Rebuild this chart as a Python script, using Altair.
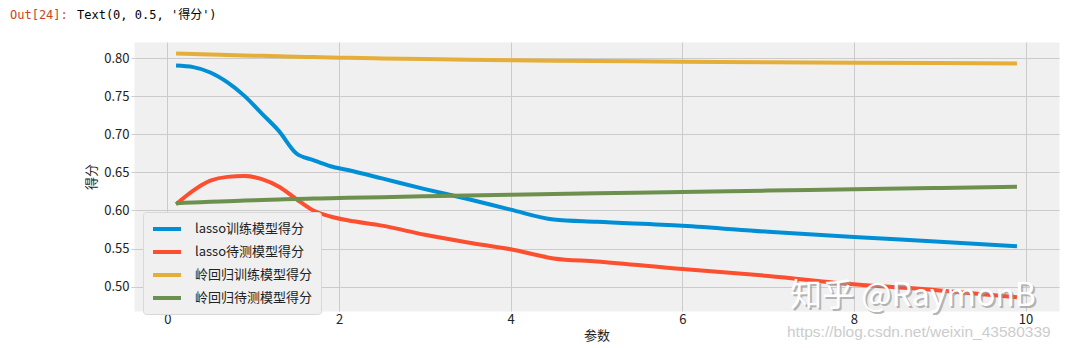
import altair as alt
import pandas as pd

# ---- data ----
alphas = [0.1, 0.3, 0.5, 0.7, 0.9, 1.1, 1.3, 1.5, 1.7, 1.9, 2.1, 2.5, 3.0, 3.5,
          4.0, 4.5, 5.0, 6.0, 7.0, 8.0, 9.0, 9.9]
lasso_train = [0.790, 0.788, 0.781, 0.768, 0.750, 0.727, 0.704, 0.675, 0.666, 0.658,
               0.653, 0.642, 0.628, 0.615, 0.601, 0.588, 0.585, 0.580, 0.572, 0.565,
               0.559, 0.553]
lasso_test = [0.608, 0.626, 0.639, 0.644, 0.645, 0.641, 0.631, 0.615, 0.600, 0.592,
              0.587, 0.580, 0.568, 0.558, 0.549, 0.537, 0.533, 0.523, 0.514, 0.503,
              0.495, 0.486]
ridge_train = [0.8060, 0.8053, 0.8046, 0.8040, 0.8034, 0.8028, 0.8022, 0.8017, 0.8012,
               0.8007, 0.8003, 0.7995, 0.7986, 0.7978, 0.7971, 0.7965, 0.7960, 0.7951,
               0.7944, 0.7938, 0.7933, 0.7929]
ridge_test = [0.6095, 0.6104, 0.6113, 0.6121, 0.6129, 0.6136, 0.6143, 0.6149, 0.6155,
              0.6160, 0.6165, 0.6174, 0.6185, 0.6196, 0.6207, 0.6216, 0.6225, 0.6242,
              0.6260, 0.6278, 0.6295, 0.6310]

series_names = ["lasso训练模型得分", "lasso待测模型得分", "岭回归训练模型得分", "岭回归待测模型得分"]
series_values = [lasso_train, lasso_test, ridge_train, ridge_test]
series_colors = ["#008fd5", "#fc4f30", "#e5ae38", "#6d904f"]

x_ticks = [0, 2, 4, 6, 8, 10]
y_ticks = [0.50, 0.55, 0.60, 0.65, 0.70, 0.75, 0.80]

out_prompt = "Out[24]:"
out_text = "Text(0, 0.5, '得分')"
watermark = "知乎 @RaymonB"
url_mark = "https://blog.csdn.net/weixin_43580339"

rows = []
for name, vals in zip(series_names, series_values):
    for a, v in zip(alphas, vals):
        rows.append({"参数": a, "得分": v, "series": name})
df = pd.DataFrame(rows)

FONT = "Noto Sans CJK SC"

color = alt.Color(
    "series:N",
    scale=alt.Scale(domain=series_names, range=series_colors),
    legend=alt.Legend(
        title=None,
        orient="none",
        legendX=9,
        legendY=170,
        fillColor="#f0f0f0",
        strokeColor="#d8d8d8",
        padding=8,
        cornerRadius=3,
        symbolType="M-1,0H3",
        symbolStrokeWidth=4,
        symbolSize=196,
        labelFont=FONT,
        labelFontSize=13,
        labelColor="#222222",
        labelOffset=26,
        labelLimit=300,
        rowPadding=6,
    ),
)

x_enc = alt.X(
    "参数:Q",
    scale=alt.Scale(domain=[-0.39, 10.39], nice=False, zero=False),
    axis=alt.Axis(values=x_ticks, title="参数", ticks=False, labelPadding=2,
                  titlePadding=3, format="d"),
)
y_enc = alt.Y(
    "得分:Q",
    scale=alt.Scale(domain=[0.468, 0.821], nice=False, zero=False),
    axis=alt.Axis(values=y_ticks, title="得分", format=".2f", tickSize=3,
                  tickColor="#cbcbcb", labelPadding=2, titlePadding=5),
)

base = alt.Chart(df)
lines = [
    base.transform_filter(alt.datum.series == name)
    .mark_line(strokeWidth=4, clip=True, interpolate="monotone")
    .encode(x=x_enc, y=y_enc, color=color)
    for name in series_names
]

def text_layer(txt, x, y, **kw):
    return alt.Chart(pd.DataFrame({"t": [txt]})).mark_text(**kw).encode(
        x=alt.value(x), y=alt.value(y), text="t:N"
    )

prompt = text_layer(out_prompt, -124, -27, align="left", baseline="middle",
                    font="DejaVu Sans Mono, Noto Sans CJK SC", fontSize=12, color="#c9441c")
outtxt = text_layer(out_text, -57, -27, align="left", baseline="middle",
                    font="DejaVu Sans Mono, Noto Sans CJK SC", fontSize=12, color="#000000")
wm_shadow = text_layer(watermark, 658, 256, align="left", baseline="middle",
                       font=FONT, fontSize=32, color="#9a9a9a", opacity=0.7)
wm = text_layer(watermark, 656, 254, align="left", baseline="middle",
                font=FONT, fontSize=32, color="#ffffff")
url = text_layer(url_mark, 653, 290, align="left", baseline="middle",
                 font="Liberation Sans", fontSize=15.5, color="#cccccc")

chart = alt.layer(*lines, prompt, outtxt, wm_shadow, wm, url).properties(
    width=925,
    height=269,
    autosize=alt.AutoSizeParams(type="none"),
    padding={"left": 134, "top": 42, "right": 7, "bottom": 37},
    background="#ffffff",
).configure_view(
    fill="#f0f0f0", stroke="transparent"
).configure_axis(
    domain=False,
    grid=True,
    gridColor="#cbcbcb",
    gridWidth=1,
    labelFont=FONT,
    labelFontSize=13,
    labelColor="#222222",
    titleFont=FONT,
    titleFontSize=13,
    titleFontWeight="normal",
    titleColor="#222222",
)

chart.save("out.html", embed_options={"renderer": "svg", "actions": False})
